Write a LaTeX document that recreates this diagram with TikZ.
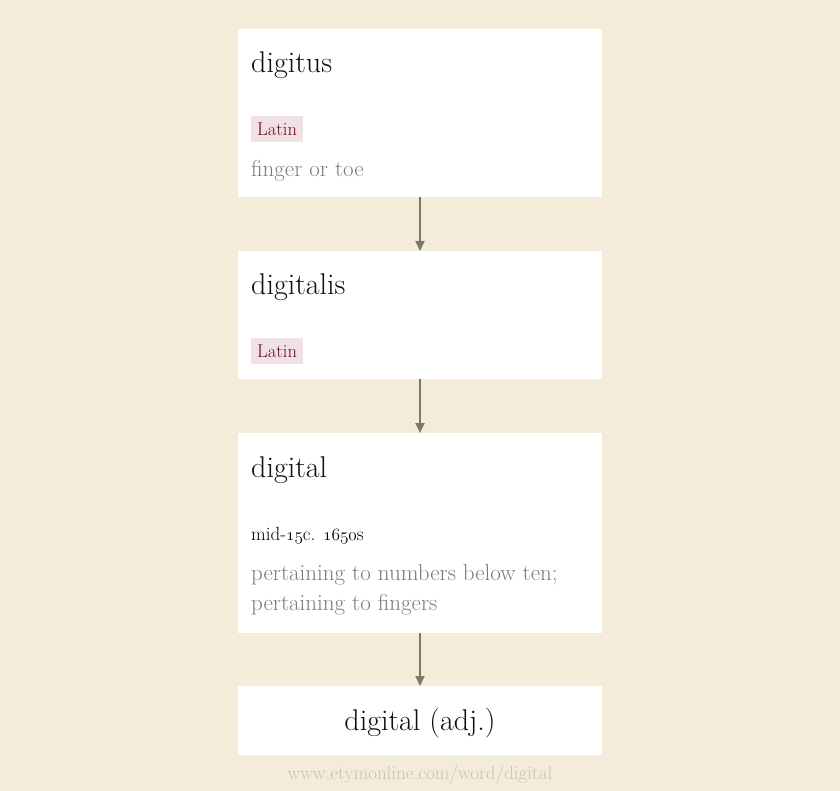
\documentclass[tikz,border=0pt]{standalone}
\usepackage{fontspec}
\usetikzlibrary{arrows.meta}
\definecolor{paper}{HTML}{F3ECDB}
\definecolor{tagbg}{HTML}{F0E2E4}
\definecolor{tagfg}{HTML}{6E0820}
\definecolor{gloss}{HTML}{7C7C7C}
\definecolor{linkc}{HTML}{7D7866}
\definecolor{foot}{HTML}{C9C3B3}
\tikzset{card/.style={fill=white, draw=none, minimum width=364pt, inner sep=0pt, anchor=north}}
\tikzset{word/.style={anchor=base west, inner sep=0pt, text=black!94, font=\fontsize{30}{34}\selectfont}}
\tikzset{lang/.style={anchor=north west, fill=tagbg, text=tagfg, inner xsep=6pt, inner ysep=6.5pt,
  text height=13pt, text depth=0pt, font=\fontsize{18.5}{22}\selectfont}}
\tikzset{sense/.style={anchor=base west, inner sep=0pt, text=gloss, align=left, font=\fontsize{23}{30}\selectfont}}
\tikzset{link/.style={->, linkc, line width=1.8pt}}
\begin{document}
\begin{tikzpicture}[x=1pt, y=-1pt, >={Triangle[width=9pt,length=10pt]}]
      \fill [paper] (0, 0) rectangle (840, 791);
      \useasboundingbox (0, 0) rectangle (840, 791);

      % cards
      \node [card, minimum height=168pt] (digitus) at (420, 29) {};
      \node [card, minimum height=128pt] (digitalis) at (420, 251) {};
      \node [card, minimum height=200pt] (digital) at (420, 433) {};
      \node [card, minimum height=69pt] (adj) at (420, 686) {};

      % digitus
      \node [word] (w1) at (251, 73) {digitus};
      \node [lang] (l1) at (251, 116) {Latin};
      \node [sense] (s1) at (251, 177) {finger or toe};

      % digitalis
      \node [word] (w2) at (251, 295) {digitalis};
      \node [lang] (l2) at (251, 338) {Latin};

      % digital
      \node [word] (w3) at (251, 477) {digital};
      \node [anchor=base west, inner sep=0pt, text=black, font=\fontsize{19}{22}\selectfont] (d3) at (251, 540)
        {mid-\legacyoldstylenums{15}c. \legacyoldstylenums{1650}s};
      \node [sense] (s3) at (251, 610) {pertaining to numbers below ten;\\pertaining to fingers};

      % digital (adj.)
      \node [word, anchor=base] (w4) at (420, 730) {digital (adj.)};

      \node [anchor=base, inner sep=0pt, text=foot, font=\fontsize{19}{22}\selectfont] (url) at (420, 779)
        {www.etymonline.com/word/digital};

      \draw [link] (digitus.south) -- (digitalis.north);
      \draw [link] (digitalis.south) -- (digital.north);
      \draw [link] (digital.south) -- (adj.north);
    \end{tikzpicture}
\end{document}
